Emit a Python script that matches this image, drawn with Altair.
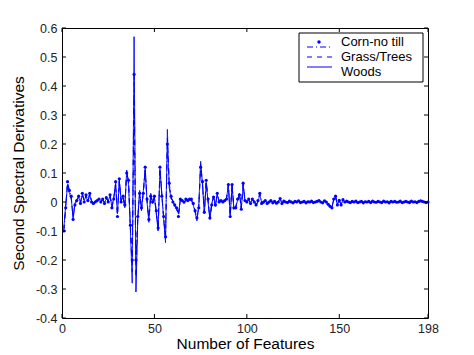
import altair as alt
import pandas as pd

# ---------------- data ----------------
names = ["Corn-no till", "Grass/Trees", "Woods"]
x_ticks = [0, 50, 100, 150, 198]
y_ticks = [-0.4, -0.3, -0.2, -0.1, 0.0, 0.1, 0.2, 0.3, 0.4, 0.5, 0.6]
features = list(range(1, 199))

corn = [
    -0.10, -0.02, 0.07, 0.04, 0.02, -0.06, -0.01, 0.005, 0.02, -0.005,
    0.03, 0.0, 0.025, 0.005, 0.03, 0.0, -0.005, 0.0, 0.005, 0.01,
    0.0, 0.01, -0.005, 0.015, 0.0, 0.025, -0.02, 0.01, 0.07, -0.05,
    0.08, 0.0, 0.02, -0.01, 0.1, 0.075, -0.08, -0.2, 0.44, -0.2,
    -0.05, 0.03, -0.02, 0.03, 0.12, 0.01, -0.06, 0.02, 0.0, 0.02,
    -0.03, -0.09, 0.12, 0.02, -0.05, -0.12, 0.2, 0.065, 0.02, 0.0,
    -0.01, -0.02, -0.05, 0.01, 0.005, 0.0, 0.01, 0.005, 0.01, 0.01,
    -0.005, -0.03, -0.055, -0.02, 0.12, 0.07, -0.035, 0.075, 0.01, -0.055,
    -0.01, 0.017, -0.01, 0.03, 0.0, 0.005, 0.0, 0.005, 0.01, 0.06,
    -0.05, 0.06, -0.02, -0.02, 0.01, 0.025, -0.025, 0.065, 0.005, 0.0,
    0.01, -0.005, 0.01, 0.0, -0.01, 0.005, 0.03, -0.005, 0.0, 0.005,
    -0.005, 0.0, 0.005, -0.003, 0.002, -0.004, 0.0, 0.012, -0.005, 0.003,
    0.0, -0.002, 0.003, 0.0, -0.003, 0.002, 0.0, 0.004, -0.002, 0.0,
    0.002, -0.003, 0.001, 0.0, 0.003, -0.002, 0.0, 0.002, 0.005, 0.0,
    -0.003, 0.004, 0.0, -0.008, -0.015, -0.02, 0.01, 0.02, -0.01, 0.006,
    -0.01, 0.008, 0.0, 0.003, 0.0, -0.002, 0.002, 0.0, 0.003, -0.002,
    0.0, 0.002, -0.003, 0.001, 0.0, 0.002, -0.002, 0.003, 0.0, -0.001,
    0.002, 0.0, -0.002, 0.003, 0.0, 0.001, -0.003, 0.002, 0.0, 0.002,
    -0.001, 0.0, 0.003, -0.002, 0.0, 0.002, 0.0, -0.002, 0.003, 0.0,
    0.001, -0.002, 0.002, 0.004, 0.002, 0.0, -0.002, 0.0,
]

grass = [
    -0.095, -0.015, 0.065, 0.035, 0.015, -0.055, -0.008, 0.008, 0.018, -0.002,
    0.028, 0.002, 0.022, 0.003, 0.028, 0.002, -0.008, 0.002, 0.003, 0.011,
    0.002, 0.008, -0.003, 0.012, 0.002, 0.022, -0.018, 0.012, 0.065, -0.045,
    0.075, 0.002, 0.018, -0.015, 0.105, 0.07, -0.09, -0.24, 0.36, -0.26,
    -0.055, 0.035, -0.025, 0.035, 0.115, 0.005, -0.065, 0.025, -0.002, 0.018,
    -0.035, -0.095, 0.115, 0.025, -0.055, -0.13, 0.22, 0.06, 0.015, 0.002,
    -0.012, -0.022, -0.045, 0.008, 0.008, -0.002, 0.008, 0.008, 0.008, 0.008,
    -0.008, -0.032, -0.06, -0.015, 0.13, 0.065, -0.038, 0.07, 0.005, -0.058,
    -0.008, 0.018, -0.012, 0.028, 0.002, 0.002, 0.002, 0.003, 0.012, 0.058,
    -0.048, 0.058, -0.022, -0.018, 0.008, 0.028, -0.022, 0.062, 0.002, 0.002,
    0.008, -0.002, 0.008, 0.002, -0.011, 0.003, 0.028, -0.002, -0.002, 0.004,
    -0.002, -0.002, 0.004, -0.002, 0.001, -0.003, 0.001, 0.011, -0.004, 0.002,
    0.001, -0.001, 0.002, 0.002, -0.003, 0.001, 0.002, 0.003, -0.001, -0.001,
    0.001, -0.003, 0.002, 0.001, 0.002, -0.003, 0.001, 0.001, 0.004, 0.001,
    -0.003, 0.003, -0.002, -0.007, -0.014, -0.019, 0.009, 0.018, -0.009, 0.005,
    -0.009, 0.007, 0.001, 0.002, 0.001, -0.002, 0.001, 0.001, 0.002, -0.002,
    0.001, 0.001, -0.002, 0.002, -0.001, 0.001, -0.002, 0.003, 0.0, -0.001,
    0.001, 0.001, -0.002, 0.002, 0.001, 0.0, -0.002, 0.002, 0.0, 0.001,
    0.0, -0.001, 0.002, -0.002, 0.001, 0.001, -0.001, 0.0, 0.002, -0.001,
    0.001, -0.002, 0.002, 0.003, 0.002, 0.0, -0.002, 0.0,
]

woods = [
    -0.09, -0.01, 0.06, 0.03, 0.01, -0.05, -0.005, 0.01, 0.015, 0.0,
    0.025, 0.005, 0.02, 0.0, 0.025, 0.005, -0.01, 0.005, 0.0, 0.012,
    0.005, 0.005, 0.0, 0.01, 0.005, 0.02, -0.015, 0.015, 0.06, -0.04,
    0.07, 0.005, 0.015, -0.02, 0.11, 0.06, -0.1, -0.28, 0.57, -0.31,
    -0.06, 0.04, -0.03, 0.04, 0.11, 0.0, -0.07, 0.03, -0.005, 0.015,
    -0.04, -0.1, 0.11, 0.03, -0.06, -0.14, 0.25, 0.05, 0.01, 0.005,
    -0.015, -0.025, -0.04, 0.005, 0.01, -0.005, 0.005, 0.01, 0.005, 0.005,
    -0.01, -0.035, -0.065, -0.01, 0.14, 0.06, -0.04, 0.065, 0.0, -0.06,
    -0.005, 0.02, -0.015, 0.025, 0.005, 0.0, 0.005, 0.0, 0.015, 0.055,
    -0.045, 0.055, -0.025, -0.015, 0.005, 0.03, -0.02, 0.06, 0.0, 0.005,
    0.005, 0.0, 0.005, 0.005, -0.012, 0.0, 0.025, 0.0, -0.005, 0.003,
    0.0, -0.003, 0.003, 0.0, 0.0, -0.002, 0.003, 0.01, -0.003, 0.0,
    0.002, 0.0, 0.0, 0.003, -0.002, 0.0, 0.003, 0.002, 0.0, -0.002,
    0.0, -0.002, 0.003, 0.002, 0.0, -0.003, 0.002, 0.0, 0.003, 0.002,
    -0.002, 0.002, -0.003, -0.006, -0.012, -0.018, 0.008, 0.016, -0.008, 0.004,
    -0.008, 0.006, 0.002, 0.0, 0.002, -0.001, 0.0, 0.002, 0.001, -0.003,
    0.002, 0.0, -0.001, 0.003, -0.002, 0.0, -0.001, 0.002, 0.001, 0.0,
    0.0, 0.002, -0.001, 0.001, 0.002, -0.002, -0.001, 0.003, 0.001, 0.0,
    0.002, -0.001, 0.001, 0.0, 0.002, 0.0, -0.001, 0.003, 0.001, -0.002,
    0.0, -0.001, 0.003, 0.002, 0.003, 0.001, -0.001, 0.0,
]

# ---------------- tables ----------------
wide = pd.DataFrame({"x": features, names[0]: corn, names[1]: grass, names[2]: woods})
df = wide.melt(id_vars="x", var_name="series", value_name="value")
leg_df = pd.DataFrame({"series": names})
xt_df = pd.DataFrame({"x": x_ticks})
yt_df = pd.DataFrame({"value": y_ticks})

W, H = 366, 290
FONT = "Liberation Sans"
BLUE = "#0000ff"

xs = alt.Scale(domain=[0, 198], nice=False, zero=False)
ys = alt.Scale(domain=[-0.4, 0.6], nice=False, zero=False)
x_axis = alt.Axis(values=x_ticks, title="Number of Features", labelPadding=4,
                  titlePadding=2, labelFlush=False, labelOverlap=False)
y_axis = alt.Axis(values=y_ticks, title="Second Spectral Derivatives", labelPadding=5,
                  titlePadding=9, labelFlush=False, labelOverlap=False,
                  labelExpr="datum.value < 0 ? '-' + format(-datum.value, '.1~f') : format(datum.value, '.1~f')")
X = alt.X("x:Q", scale=xs, axis=x_axis)
Y = alt.Y("value:Q", scale=ys, axis=y_axis)
dash_scale = alt.Scale(domain=names, range=[[6, 3, 1, 3], [5, 5], [1, 0]])

lines = alt.Chart(df).mark_line(strokeWidth=1, color=BLUE, clip=True).encode(
    x=X, y=Y,
    strokeDash=alt.StrokeDash("series:N", scale=dash_scale, legend=None),
)
points = alt.Chart(df).transform_filter(alt.datum.series == names[0]).mark_circle(
    size=10, color=BLUE, opacity=1).encode(x=X, y=Y)

tick_b = alt.Chart(xt_df).mark_rule(color="black").encode(x=X, y=alt.value(H), y2=alt.value(H - 4))
tick_t = alt.Chart(xt_df).mark_rule(color="black").encode(x=X, y=alt.value(0), y2=alt.value(4))
tick_l = alt.Chart(yt_df).mark_rule(color="black").encode(y=Y, x=alt.value(0), x2=alt.value(4))
tick_r = alt.Chart(yt_df).mark_rule(color="black").encode(y=Y, x=alt.value(W - 4), x2=alt.value(W))

main = alt.layer(lines, points, tick_b, tick_t, tick_l, tick_r)

# ---------------- legend ----------------
ly = alt.Scale(domain=names, range=[14, 44], padding=0)
LY = alt.Y("series:N", scale=ly, axis=None)
leg_box = alt.Chart(leg_df).transform_aggregate(n="count()").mark_rect(
    fill="white", stroke="black", strokeWidth=1).encode(
    x=alt.value(237), x2=alt.value(361), y=alt.value(5), y2=alt.value(54))
leg_lines = alt.Chart(leg_df).mark_rule(color=BLUE, strokeWidth=1).encode(
    x=alt.value(245), x2=alt.value(270), y=LY,
    strokeDash=alt.StrokeDash("series:N", scale=dash_scale, legend=None))
leg_dot = alt.Chart(leg_df).transform_filter(alt.datum.series == names[0]).mark_circle(
    size=12, color=BLUE, opacity=1).encode(x=alt.value(257), y=LY)
leg_text = alt.Chart(leg_df).mark_text(align="left", baseline="middle", font=FONT,
                                       fontSize=13, color="black").encode(
    x=alt.value(279), y=LY, text="series:N")

chart = alt.layer(main, leg_box, leg_lines, leg_dot, leg_text).resolve_scale(
    y="independent").properties(
    width=W, height=H,
    padding={"left": 62, "top": 28, "right": 46, "bottom": 37},
    autosize=alt.AutoSizeParams(type="none"),
    background="white",
).configure_view(stroke="black", strokeWidth=1).configure_axis(
    grid=False, domain=False, ticks=False,
    labelFont=FONT, labelFontSize=12.5, labelColor="#222",
    titleFont=FONT, titleFontSize=15.5, titleFontWeight="normal", titleColor="black",
)

chart.save("out.html", embed_options={"renderer": "svg", "actions": False})
